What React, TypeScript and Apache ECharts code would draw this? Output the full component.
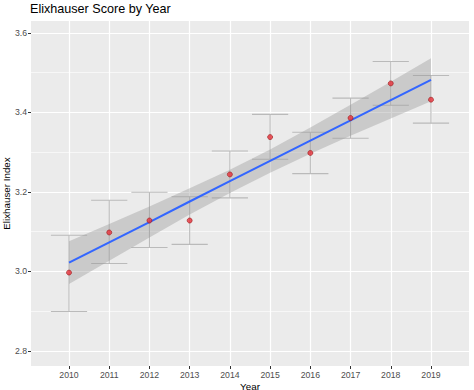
import React, { useEffect, useRef } from "react";
import * as echarts from "echarts";

const years = [2010, 2011, 2012, 2013, 2014, 2015, 2016, 2017, 2018, 2019];
const meanScore = [2.997, 3.098, 3.128, 3.128, 3.244, 3.338, 3.298, 3.386, 3.473, 3.432];
const errLow = [2.899, 3.020, 3.060, 3.068, 3.185, 3.282, 3.246, 3.335, 3.418, 3.373];
const errHigh = [3.091, 3.179, 3.199, 3.188, 3.303, 3.395, 3.350, 3.436, 3.528, 3.493];
const fitLine = [3.022, 3.073, 3.124, 3.176, 3.227, 3.278, 3.329, 3.380, 3.431, 3.482];
const bandUpper = [3.076, 3.119, 3.163, 3.209, 3.256, 3.307, 3.362, 3.419, 3.477, 3.536];
const bandLower = [2.968, 3.027, 3.085, 3.143, 3.197, 3.248, 3.296, 3.341, 3.385, 3.428];
const yTicks = [2.8, 3.0, 3.2, 3.4, 3.6];
const yMinor = [2.9, 3.1, 3.3, 3.5];

const FONT = "Liberation Sans, Arial, Helvetica, sans-serif";

export default function App() {
  const ref = useRef<HTMLDivElement>(null);
  useEffect(() => {
    if (!ref.current) return;
    const chart = echarts.init(ref.current, undefined, { renderer: "svg" });
    const gridLines: any[] = [
      ...years.map((y) => ({ xAxis: y, lineStyle: { color: "#FFFFFF", width: 1.2, type: "solid" } })),
      ...yTicks.map((v) => ({ yAxis: v, lineStyle: { color: "#FFFFFF", width: 1.2, type: "solid" } })),
      ...yMinor.map((v) => ({ yAxis: v, lineStyle: { color: "#FFFFFF", width: 0.6, type: "solid" } })),
    ];
    const option: any = {
      animation: false,
      backgroundColor: "#FFFFFF",
      textStyle: { fontFamily: FONT },
      title: {
        text: "Elixhauser Score by Year",
        left: 25,
        top: -3,
        textStyle: { fontSize: 12.6, fontWeight: "normal", color: "#000000", fontFamily: FONT },
      },
      grid: {
        left: 31,
        right: 5,
        top: 21,
        bottom: 24,
        show: true,
        backgroundColor: "#EBEBEB",
        borderWidth: 0,
        containLabel: false,
        outerBoundsMode: "none",
      },
      xAxis: {
        type: "value",
        min: 2009.055,
        max: 2019.945,
        name: "Year",
        nameLocation: "middle",
        nameGap: 15,
        nameMoveOverlap: false,
        nameTextStyle: { fontSize: 9.8, color: "#000000", fontFamily: FONT },
        axisLine: { show: false },
        axisTick: { show: true, customValues: years, length: 3, lineStyle: { color: "#333333", width: 1 } },
        axisLabel: {
          customValues: years,
          formatter: (v: number) => String(Math.round(v)),
          color: "#4D4D4D",
          fontSize: 8.7,
          margin: 4,
          fontFamily: FONT,
        },
        splitLine: { show: false },
      },
      yAxis: {
        type: "value",
        min: 2.762,
        max: 3.63,
        name: "Elixhauser Index",
        nameLocation: "middle",
        nameGap: 20,
        nameRotate: 90,
        nameMoveOverlap: false,
        nameTextStyle: { fontSize: 9.8, color: "#000000", fontFamily: FONT },
        axisLine: { show: false },
        axisTick: { show: true, customValues: yTicks, length: 3, lineStyle: { color: "#333333", width: 1 } },
        axisLabel: {
          customValues: yTicks,
          formatter: (v: number) => v.toFixed(1),
          color: "#4D4D4D",
          fontSize: 8.7,
          margin: 4,
          fontFamily: FONT,
        },
        splitLine: { show: false },
      },
      series: [
        {
          type: "line",
          z: 1,
          data: years.map((y, i) => [y, fitLine[i]]),
          lineStyle: { opacity: 0 },
          symbol: "none",
          silent: true,
          markLine: {
            z: 1,
            silent: true,
            symbol: ["none", "none"],
            label: { show: false },
            data: gridLines,
          },
        },
        {
          type: "custom",
          z: 10,
          data: years.map((y, i) => [y, errLow[i], errHigh[i]]),
          encode: { x: 0, y: [1, 2] },
          renderItem: (params: any, api: any) => {
            const x = api.value(0);
            const lo = api.value(1);
            const hi = api.value(2);
            const top = api.coord([x, hi]);
            const bot = api.coord([x, lo]);
            const half = api.size([0.9, 0])[0] / 2;
            const style = { stroke: "#BABABA", lineWidth: 1.1 };
            return {
              type: "group",
              children: [
                { type: "line", shape: { x1: top[0], y1: top[1], x2: bot[0], y2: bot[1] }, style },
                { type: "line", shape: { x1: top[0] - half, y1: top[1], x2: top[0] + half, y2: top[1] }, style },
                { type: "line", shape: { x1: bot[0] - half, y1: bot[1], x2: bot[0] + half, y2: bot[1] }, style },
              ],
            };
          },
        },
        {
          type: "custom",
          z: 11,
          data: years.map((y, i) => [y, bandLower[i], bandUpper[i]]),
          encode: { x: 0, y: [1, 2] },
          renderItem: (params: any, api: any) => {
            if (params.dataIndex !== 0) return null;
            const pts: number[][] = [];
            for (let i = 0; i < years.length; i++) pts.push(api.coord([years[i], bandUpper[i]]));
            for (let i = years.length - 1; i >= 0; i--) pts.push(api.coord([years[i], bandLower[i]]));
            return {
              type: "polygon",
              shape: { points: pts },
              style: { fill: "rgba(153,153,153,0.4)", stroke: "none" },
            };
          },
        },
        {
          type: "line",
          z: 12,
          data: years.map((y, i) => [y, fitLine[i]]),
          symbol: "none",
          lineStyle: { color: "#3366FF", width: 2.1 },
          silent: true,
        },
        {
          type: "scatter",
          z: 13,
          data: years.map((y, i) => [y, meanScore[i]]),
          symbol: "circle",
          symbolSize: 5,
          itemStyle: { color: "#E8303A", borderColor: "#9B1B1B", borderWidth: 0.8 },
        },
      ],
    };
    chart.setOption(option);
    return () => chart.dispose();
  }, []);
  return (
    <div
      ref={ref}
      style={{ position: "fixed", left: 0, top: 0, width: 474, height: 390 }}
    />
  );
}
